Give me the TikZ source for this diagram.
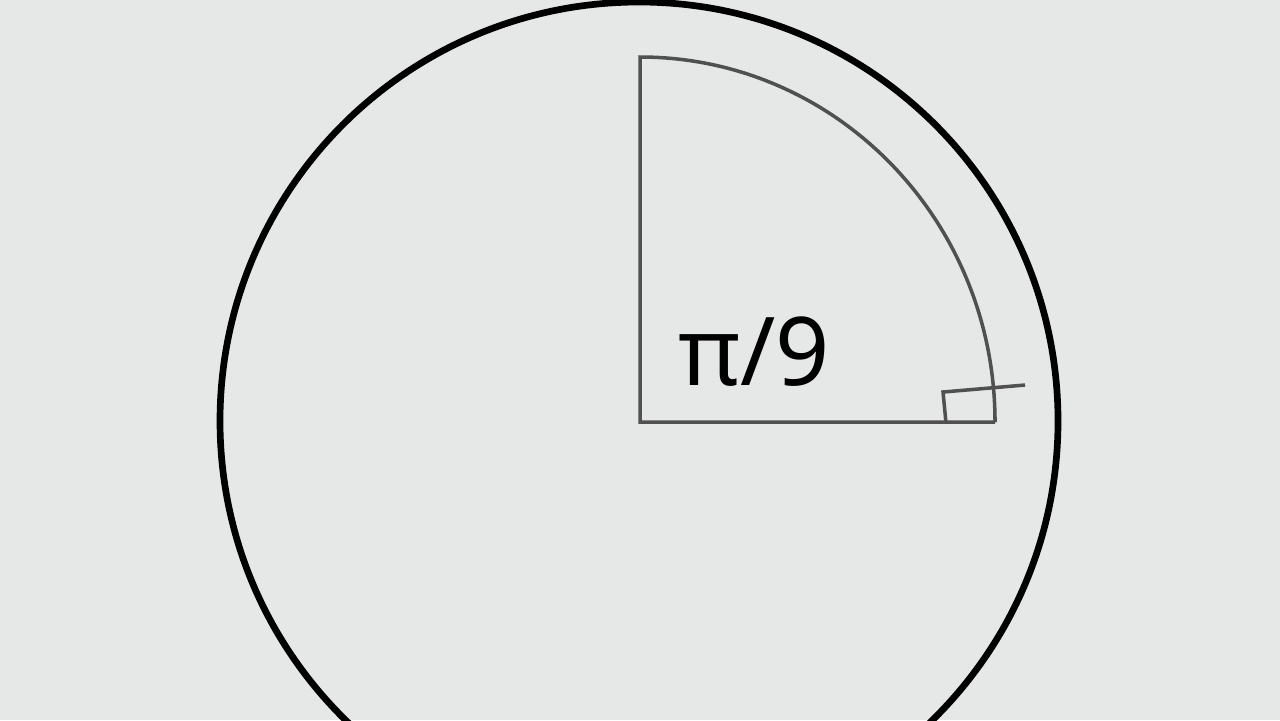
\documentclass[tikz,border=0pt]{standalone}
\usepackage{fontspec}
\setmainfont{Noto Sans}
\definecolor{boardgray}{RGB}{230, 231, 231}
\definecolor{sectorgray}{RGB}{80, 80, 80}

\begin{document}
\begin{tikzpicture}[
    x=0.01cm, y=-0.01cm,
    rim/.style={line width=1.9pt, black},
    sector/.style={line width=1.0pt, sectorgray, line join=miter},
    anglelabel/.style={font=\fontsize{27}{32}\selectfont, text=black, inner sep=0pt, anchor=base}
]
    % Background and frame
    \fill[boardgray] (0,0) rectangle (1280,720);
    \clip (0,0) rectangle (1280,720);

    % Outer circle
    \draw[rim] (639,421) circle[radius=419];

    % Quarter sector
    \coordinate (centre) at (640,422);
    \coordinate (top) at (640,57);
    \coordinate (edge) at (995,422);
    \draw[sector] (edge) -- (centre) -- (top)
        arc[start angle=-90, end angle=0, x radius=355, y radius=365];

    % Right-angle mark with tick
    \coordinate (sqfoot) at (946,423);
    \coordinate (sqcorner) at (943,392);
    \coordinate (tick) at (1025,385);
    \draw[sector] (sqfoot) -- (sqcorner) -- (tick);

    % Label
    \node[anglelabel] (angle) at (754,385) {π/9};
\end{tikzpicture}
\end{document}
